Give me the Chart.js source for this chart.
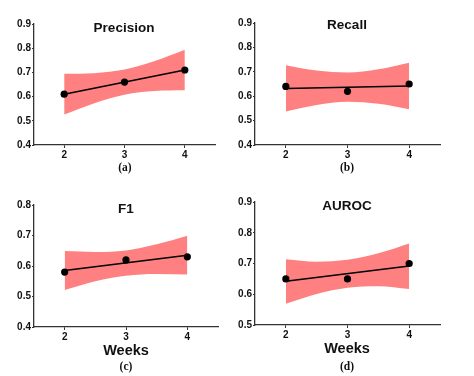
<!DOCTYPE html>
<html>
<head>
<meta charset="utf-8">
<script src="https://cdn.jsdelivr.net/npm/chart.js@4"></script>
<style>
  html, body { margin:0; padding:0; background:#fff; }
  #wrap { position:relative; width:474px; height:376px; overflow:hidden; background:#fff; }
  .panel { position:absolute; width:237px; height:188px; }
  .lbl { position:absolute; transform:translate(-50%,-50%); white-space:nowrap; color:#111; }
  .ttl { font:bold 13.5px "Liberation Sans", Arial, sans-serif; }
  .wk { font:bold 14.5px "Liberation Sans", Arial, sans-serif; }
  .cap { font:bold 11.5px "Liberation Serif", "Times New Roman", serif; }
</style>
</head>
<body>
<div id="wrap">
  <div class="panel" style="left:0;top:0"><canvas id="ca"></canvas></div>
  <div class="panel" style="left:237px;top:0"><canvas id="cb"></canvas></div>
  <div class="panel" style="left:0;top:188px"><canvas id="cc"></canvas></div>
  <div class="panel" style="left:237px;top:188px"><canvas id="cd"></canvas></div>

  <div class="lbl ttl" style="left:124px;top:27px">Precision</div>
  <div class="lbl ttl" style="left:347px;top:24px">Recall</div>
  <div class="lbl ttl" style="left:126px;top:208px">F1</div>
  <div class="lbl ttl" style="left:347px;top:205px">AUROC</div>

  <div class="lbl wk" style="left:126px;top:350px">Weeks</div>
  <div class="lbl wk" style="left:347px;top:348px">Weeks</div>

  <div class="lbl cap" style="left:125px;top:167px">(a)</div>
  <div class="lbl cap" style="left:347px;top:167px">(b)</div>
  <div class="lbl cap" style="left:126px;top:366px">(c)</div>
  <div class="lbl cap" style="left:347px;top:366px">(d)</div>
</div>
<script>
// ---- data ----
const weeks = [2, 3, 4];
const fitX = [2, 4];
const bandX = [2, 2.5, 3, 3.5, 4];

const precisionPts   = [0.61, 0.66, 0.71];
const precisionFit   = [0.61, 0.71];
const precisionUpper = [0.694, 0.697, 0.712, 0.747, 0.794];
const precisionLower = [0.526, 0.573, 0.608, 0.623, 0.626];

const recallPts   = [0.64, 0.62, 0.65];
const recallFit   = [0.632, 0.642];
const recallUpper = [0.727, 0.705, 0.697, 0.710, 0.737];
const recallLower = [0.537, 0.564, 0.577, 0.569, 0.547];

const f1Pts   = [0.58, 0.62, 0.63];
const f1Fit   = [0.585, 0.635];
const f1Upper = [0.649, 0.646, 0.651, 0.671, 0.699];
const f1Lower = [0.521, 0.550, 0.568, 0.574, 0.572];

const aurocPts   = [0.65, 0.65, 0.70];
const aurocFit   = [0.642, 0.692];
const aurocUpper = [0.714, 0.706, 0.712, 0.733, 0.765];
const aurocLower = [0.569, 0.601, 0.621, 0.626, 0.617];

const yTicksA = [0.4, 0.5, 0.6, 0.7, 0.8, 0.9];
const yTicksC = [0.4, 0.5, 0.6, 0.7, 0.8];
const yTicksD = [0.5, 0.6, 0.7, 0.8, 0.9];

// ---- styling ----
const BAND = '#ff8080';
const AXIS = '#333333';
const tickFont = { family: '"Liberation Sans", Arial, sans-serif', size: 10, weight: 'bold' };

const xy = (xs, ys) => xs.map((x, i) => ({ x: x, y: ys[i] }));

function makeChart(id, pts, fit, upper, lower, yTicks, geom) {
  const yMin = yTicks[0], yMax = yTicks[yTicks.length - 1];
  new Chart(document.getElementById(id), {
    type: 'scatter',
    data: {
      datasets: [
        { data: xy(weeks, pts), pointRadius: 3.6, pointBackgroundColor: '#000', pointBorderWidth: 0, showLine: false, order: 0 },
        { data: xy(fitX, fit), showLine: true, borderColor: '#000', borderWidth: 1.5, pointRadius: 0, order: 1 },
        { data: xy(bandX, upper), showLine: true, borderWidth: 0, borderColor: 'rgba(0,0,0,0)', pointRadius: 0,
          backgroundColor: BAND, fill: '+1', cubicInterpolationMode: 'monotone', order: 2 },
        { data: xy(bandX, lower), showLine: true, borderWidth: 0, borderColor: 'rgba(0,0,0,0)', pointRadius: 0,
          fill: false, cubicInterpolationMode: 'monotone', order: 3 }
      ]
    },
    options: {
      responsive: false,
      animation: false,
      devicePixelRatio: 1,
      layout: { padding: { left: 0, top: geom.top, right: geom.right, bottom: 0 } },
      plugins: { legend: { display: false }, tooltip: { enabled: false }, filler: { propagate: false } },
      scales: {
        x: {
          type: 'linear', min: 1.5, max: 4.5,
          afterBuildTicks: s => { s.ticks = weeks.map(v => ({ value: v })); },
          afterFit: s => { s.height = geom.xh; },
          ticks: { font: tickFont, color: '#111', padding: 1, callback: v => String(v) },
          grid: { display: true, drawOnChartArea: false, drawTicks: true, tickLength: 3, color: AXIS, lineWidth: 1 },
          border: { display: true, color: AXIS, width: 1.3 }
        },
        y: {
          min: yMin, max: yMax,
          afterBuildTicks: s => { s.ticks = yTicks.map(v => ({ value: v })); },
          afterFit: s => { s.width = geom.yw; },
          ticks: { font: tickFont, color: '#111', padding: 1, callback: v => Number(v).toFixed(1) },
          grid: { display: true, drawOnChartArea: false, drawTicks: true, tickLength: 2, color: AXIS, lineWidth: 1 },
          border: { display: true, color: AXIS, width: 1.3 }
        }
      }
    }
  });
}

function sizeCanvas(id) {
  const c = document.getElementById(id);
  c.width = 237; c.height = 188;
  c.style.width = '237px'; c.style.height = '188px';
}
['ca', 'cb', 'cc', 'cd'].forEach(sizeCanvas);

makeChart('ca', precisionPts, precisionFit, precisionUpper, precisionLower, yTicksA, { top: 24, right: 22, yw: 34, xh: 43 });
makeChart('cb', recallPts, recallFit, recallUpper, recallLower, yTicksA, { top: 23, right: 34, yw: 18, xh: 43 });
makeChart('cc', f1Pts, f1Fit, f1Upper, f1Lower, yTicksC, { top: 17, right: 19, yw: 34, xh: 49 });
makeChart('cd', aurocPts, aurocFit, aurocUpper, aurocLower, yTicksD, { top: 14, right: 34, yw: 18, xh: 51 });
</script>
</body>
</html>
